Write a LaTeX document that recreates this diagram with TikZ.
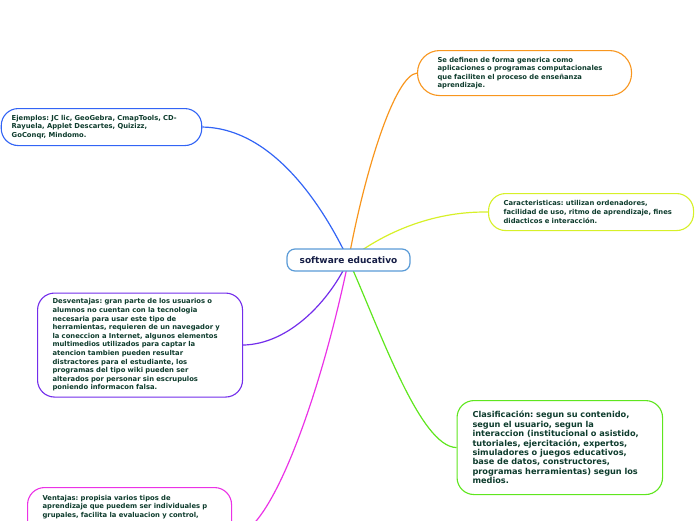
\documentclass[tikz,border=0pt]{standalone}
\usepackage{fontspec}
\setmainfont{DejaVu Sans}
\usetikzlibrary{backgrounds}
\frenchspacing
\definecolor{cOr}{RGB}{248,150,30}
\definecolor{cEj}{RGB}{50,100,245}
\definecolor{cYe}{RGB}{215,240,40}
\definecolor{cPu}{RGB}{115,45,235}
\definecolor{cGr}{RGB}{95,230,30}
\definecolor{cMa}{RGB}{235,50,230}
\definecolor{cCen}{RGB}{90,155,215}
\definecolor{txt}{RGB}{14,60,45}
\definecolor{cNavy}{RGB}{22,30,70}
\begin{document}
\begin{tikzpicture}[x=1pt,y=-1pt,
  box/.style={draw, line width=1.1pt, rounded corners=17pt, fill=white, inner ysep=0pt,
    align=left, anchor=north west, text=txt, font=\fontsize{6.8}{8.6}\selectfont\bfseries},
  link/.style={line width=1.2pt}]
\useasboundingbox (0,0) rectangle (696,520);
\clip (0,0) rectangle (696,520);

\node[draw=cCen, line width=1.2pt, rounded corners=8pt, fill=white, minimum width=123pt,
  minimum height=22pt, inner sep=0pt, text=cNavy, font=\fontsize{9}{10}\selectfont\bfseries]
  (sw) at (348.5,260) {software educativo};

\node[box, draw=cOr, rounded corners=22pt, minimum width=214pt, minimum height=45pt,
  text width=174pt, inner xsep=20pt] (or) at (417,50)
  {Se definen de forma generica como\\aplicaciones o programas computacionales\\que faciliten el proceso de enseñanza\\aprendizaje.};

\node[box, draw=cEj, minimum width=200.5pt, minimum height=37pt,
  text width=179.5pt, inner xsep=10.5pt] (ej) at (0.7,108)
  {Ejemplos: JC lic, GeoGebra, CmapTools, CD-\\Rayuela, Applet Descartes, Quizizz,\\GoConqr, Mindomo.};

\node[box, draw=cYe, minimum width=205pt, minimum height=37pt,
  text width=175pt, inner xsep=15pt] (ye) at (488,193)
  {Caracteristicas: utilizan ordenadores,\\facilidad de uso, ritmo de aprendizaje, fines\\didacticos e interacción.};

\node[box, draw=cPu, minimum width=205pt, minimum height=104pt,
  text width=175pt, inner xsep=15pt] (de) at (37,292.5)
  {Desventajas: gran parte de los usuarios o\\alumnos no cuentan con la tecnologia\\necesaria para usar este tipo de\\herramientas, requieren de un navegador y\\la coneccion a Internet, algunos elementos\\multimedios utilizados para captar la\\atencion tambien pueden resultar\\distractores para el estudiante, los\\programas del tipo wiki pueden ser\\alterados por personar sin escrupulos\\poniendo informacon falsa.};

\node[box, draw=cGr, minimum width=205.5pt, minimum height=94pt,
  text width=174.5pt, inner xsep=15.5pt, font=\fontsize{8.2}{9.4}\selectfont\bfseries] (cl) at (456.5,400)
  {Clasificación: segun su contenido,\\segun el usuario, segun la\\interaccion (institucional o asistido,\\tutoriales, ejercitación, expertos,\\simuladores o juegos educativos,\\base de datos, constructores,\\programas herramientas) segun los\\medios.};

\node[box, draw=cMa, minimum width=204pt, text width=174pt, inner xsep=15pt,
  inner ysep=7.5pt, text depth=75pt] (ve) at (27,487)
  {Ventajas: propisia varios tipos de\\aprendizaje que puedem ser individuales p\\grupales, facilita la evaluacion y control,};

\begin{scope}[on background layer]
\clip (0,0) rectangle (696,520);
\draw[link, draw=cEj] (sw.center) .. controls (320,200) and (270,128) .. (ej.east);
\draw[link, draw=cOr] (sw.center) .. controls (365,170) and (395,75) .. (or.west);
\draw[link, draw=cYe] (sw.center) .. controls (380,235) and (430,211) .. (ye.west);
\draw[link, draw=cPu] (sw.center) .. controls (330,300) and (290,344) .. (de.east);
\draw[link, draw=cGr] (sw.center) .. controls (380,330) and (420,447) .. (cl.west);
\draw[link, draw=cMa] (sw.center) .. controls (322,390) and (270,540) .. (ve.east);
\end{scope}
\end{tikzpicture}
\end{document}
